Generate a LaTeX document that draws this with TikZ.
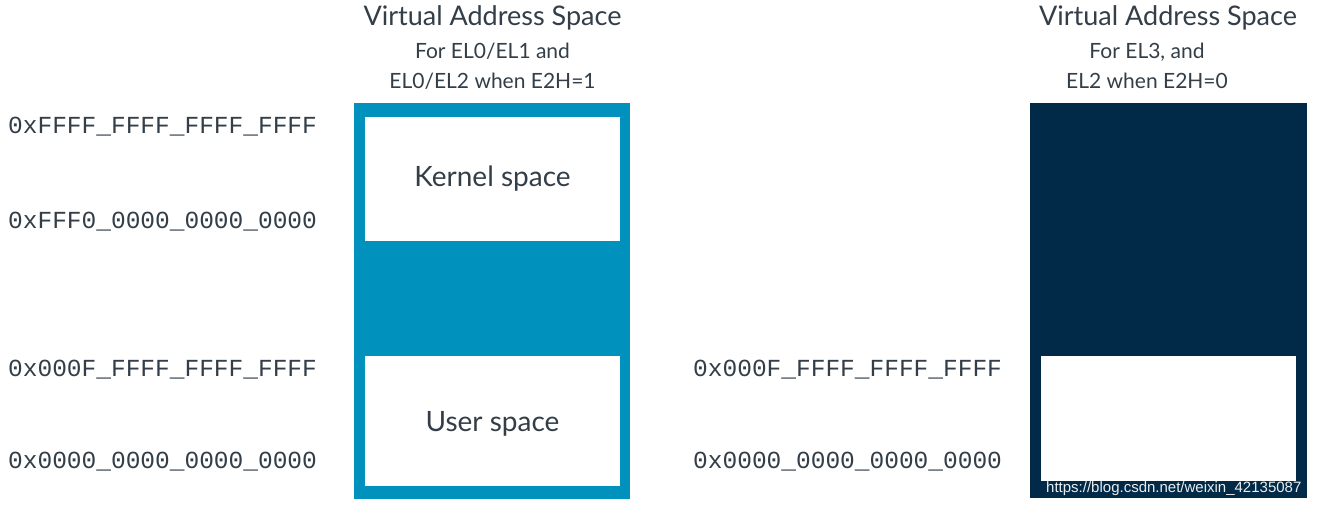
\documentclass[tikz,border=0pt]{standalone}
\usepackage{fontspec}
\setmainfont{Lato}
\newfontfamily\addrfont{Liberation Mono}
\begin{document}
\begin{tikzpicture}[x=1pt,y=-1pt,
  txt/.style={text=txtc,inner sep=0pt},
  addr/.style={txt,font=\addrfont\fontsize{24.5}{26}\selectfont,anchor=west},
  head/.style={txt,font=\fontsize{27}{30}\selectfont},
  sub/.style={txt,font=\fontsize{21}{30}\selectfont,align=center},
  space/.style={txt,font=\fontsize{28}{30}\selectfont}]
\definecolor{txtc}{HTML}{333E48}
\definecolor{armblue}{HTML}{0091BD}
\definecolor{armnavy}{HTML}{002A48}
\useasboundingbox (0,0) rectangle (1328,508);
\fill[white] (0,0) rectangle (1328,508);
% left
\fill[armblue] (354,103) rectangle (630,499);
\fill[white] (365,117) rectangle (620,241);
\fill[white] (365,356) rectangle (620,486);
\node[space] (k) at (492.5,179) {Kernel space};
\node[space] (u) at (492.5,424) {User space};
\node[head] (h1) at (492.5,18) {Virtual Address Space};
\node[sub] (s1) at (492.5,66) {For EL0/EL1 and\\EL0/EL2 when E2H=1};
% right
\fill[armnavy] (1030,103) rectangle (1307,498);
\fill[white] (1041,356) rectangle (1296,481);
\node[head] (h2) at (1168,18) {Virtual Address Space};
\node[sub] (s2) at (1147,66) {For EL3, and\\EL2 when E2H=0};
% addresses
\node[addr] (a1) at (8,127) {0xFFFF\_FFFF\_FFFF\_FFFF};
\node[addr] (a2) at (8,222) {0xFFF0\_0000\_0000\_0000};
\node[addr] (a3) at (8,370) {0x000F\_FFFF\_FFFF\_FFFF};
\node[addr] (a4) at (8,462) {0x0000\_0000\_0000\_0000};
\node[addr] (a5) at (693,370) {0x000F\_FFFF\_FFFF\_FFFF};
\node[addr] (a6) at (693,462) {0x0000\_0000\_0000\_0000};
\node[inner sep=0pt,anchor=west,text=white!85!gray,font=\fontspec{Liberation Sans}\fontsize{15}{16}\selectfont] (wm) at (1046,489) {https://blog.csdn.net/weixin\_42135087};
\end{tikzpicture}
\end{document}
